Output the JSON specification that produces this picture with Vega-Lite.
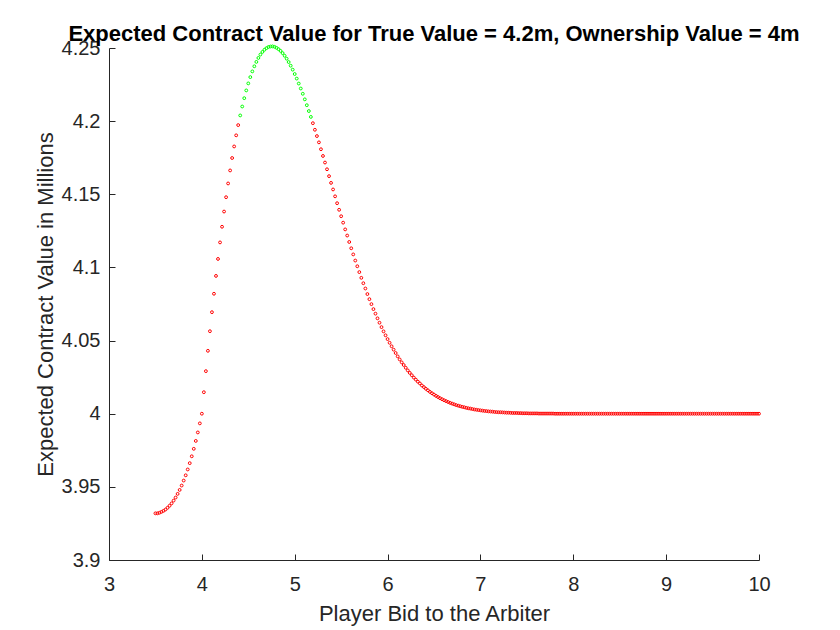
{
  "$schema": "https://vega.github.io/schema/vega-lite/v6.json",
  "autosize": {"type": "none"},
  "padding": {"left": 109, "top": 48, "right": 81, "bottom": 70},
  "width": 650,
  "height": 512,
  "background": "white",
  "title": {
    "text": "Expected Contract Value for True Value = 4.2m, Ownership Value = 4m",
    "font": "Liberation Sans",
    "fontSize": 22,
    "fontWeight": "bold",
    "color": "#000000",
    "anchor": "middle",
    "baseline": "alphabetic",
    "offset": 9,
    "dy": 34
  },
  "config": {
    "view": {"stroke": null},
    "axis": {
      "grid": false,
      "domainColor": "#262626",
      "tickColor": "#262626",
      "labelColor": "#262626",
      "titleColor": "#262626",
      "labelFont": "Liberation Sans",
      "titleFont": "Liberation Sans",
      "labelFontSize": 20,
      "titleFontSize": 22,
      "titleFontWeight": "normal",
      "tickSize": -6,
      "labelOverlap": false,
      "labelFlush": false
    }
  },
  "data": {
    "values": [
      {"bid": 3.5, "value": 3.9319}, {"bid": 3.5217, "value": 3.9319}, {"bid": 3.5435, "value": 3.9323}, {"bid": 3.5652, "value": 3.9329},
      {"bid": 3.587, "value": 3.9336}, {"bid": 3.6087, "value": 3.9345}, {"bid": 3.6304, "value": 3.9357}, {"bid": 3.6522, "value": 3.9371},
      {"bid": 3.6739, "value": 3.9387}, {"bid": 3.6957, "value": 3.9406}, {"bid": 3.7174, "value": 3.9427}, {"bid": 3.7391, "value": 3.9452},
      {"bid": 3.7609, "value": 3.9479}, {"bid": 3.7826, "value": 3.9509}, {"bid": 3.8043, "value": 3.9543}, {"bid": 3.8261, "value": 3.9579},
      {"bid": 3.8478, "value": 3.9619}, {"bid": 3.8696, "value": 3.9662}, {"bid": 3.8913, "value": 3.9709}, {"bid": 3.913, "value": 3.976},
      {"bid": 3.9348, "value": 3.9814}, {"bid": 3.9565, "value": 3.9872}, {"bid": 3.9783, "value": 3.9934},
      {"bid": 4.0, "value": 4.0}, {"bid": 4.0217, "value": 4.0147}, {"bid": 4.0435, "value": 4.0291}, {"bid": 4.0652, "value": 4.043},
      {"bid": 4.087, "value": 4.0564}, {"bid": 4.1087, "value": 4.0694}, {"bid": 4.1304, "value": 4.082}, {"bid": 4.1522, "value": 4.0942},
      {"bid": 4.1739, "value": 4.1058}, {"bid": 4.1957, "value": 4.1171}, {"bid": 4.2174, "value": 4.1278}, {"bid": 4.2391, "value": 4.1382},
      {"bid": 4.2609, "value": 4.148}, {"bid": 4.2826, "value": 4.1574}, {"bid": 4.3043, "value": 4.1663}, {"bid": 4.3261, "value": 4.1748},
      {"bid": 4.3478, "value": 4.1827}, {"bid": 4.3696, "value": 4.1903}, {"bid": 4.3913, "value": 4.1973}, {"bid": 4.413, "value": 4.2039},
      {"bid": 4.4348, "value": 4.21}, {"bid": 4.4565, "value": 4.2157}, {"bid": 4.4783, "value": 4.221},
      {"bid": 4.5, "value": 4.2258}, {"bid": 4.5217, "value": 4.2301}, {"bid": 4.5435, "value": 4.234}, {"bid": 4.5652, "value": 4.2375},
      {"bid": 4.587, "value": 4.2405}, {"bid": 4.6087, "value": 4.2432}, {"bid": 4.6304, "value": 4.2455}, {"bid": 4.6522, "value": 4.2473},
      {"bid": 4.6739, "value": 4.2488}, {"bid": 4.6957, "value": 4.2499}, {"bid": 4.7174, "value": 4.2507}, {"bid": 4.7391, "value": 4.251},
      {"bid": 4.7609, "value": 4.2511}, {"bid": 4.7826, "value": 4.2508}, {"bid": 4.8043, "value": 4.2501}, {"bid": 4.8261, "value": 4.2492},
      {"bid": 4.8478, "value": 4.248}, {"bid": 4.8696, "value": 4.2465}, {"bid": 4.8913, "value": 4.2447}, {"bid": 4.913, "value": 4.2427},
      {"bid": 4.9348, "value": 4.2404}, {"bid": 4.9565, "value": 4.2379}, {"bid": 4.9783, "value": 4.2352},
      {"bid": 5.0, "value": 4.2322}, {"bid": 5.0217, "value": 4.2291}, {"bid": 5.0435, "value": 4.2257}, {"bid": 5.0652, "value": 4.2223},
      {"bid": 5.087, "value": 4.2187}, {"bid": 5.1087, "value": 4.2149}, {"bid": 5.1304, "value": 4.2109}, {"bid": 5.1522, "value": 4.2069},
      {"bid": 5.1739, "value": 4.2029}, {"bid": 5.1957, "value": 4.1986}, {"bid": 5.2174, "value": 4.1941}, {"bid": 5.2391, "value": 4.1898},
      {"bid": 5.2609, "value": 4.1855}, {"bid": 5.2826, "value": 4.1808}, {"bid": 5.3043, "value": 4.1762}, {"bid": 5.3261, "value": 4.1717},
      {"bid": 5.3478, "value": 4.1671}, {"bid": 5.3696, "value": 4.1624}, {"bid": 5.3913, "value": 4.1578}, {"bid": 5.413, "value": 4.1533},
      {"bid": 5.4348, "value": 4.1486}, {"bid": 5.4565, "value": 4.1439}, {"bid": 5.4783, "value": 4.1394},
      {"bid": 5.5, "value": 4.135}, {"bid": 5.5217, "value": 4.1306}, {"bid": 5.5435, "value": 4.126}, {"bid": 5.5652, "value": 4.1218},
      {"bid": 5.587, "value": 4.1174}, {"bid": 5.6087, "value": 4.1131}, {"bid": 5.6304, "value": 4.1089}, {"bid": 5.6522, "value": 4.1047},
      {"bid": 5.6739, "value": 4.1008}, {"bid": 5.6957, "value": 4.0968}, {"bid": 5.7174, "value": 4.0929}, {"bid": 5.7391, "value": 4.0892},
      {"bid": 5.7609, "value": 4.0856}, {"bid": 5.7826, "value": 4.0818}, {"bid": 5.8043, "value": 4.0783}, {"bid": 5.8261, "value": 4.0749},
      {"bid": 5.8478, "value": 4.0715}, {"bid": 5.8696, "value": 4.0684}, {"bid": 5.8913, "value": 4.0652}, {"bid": 5.913, "value": 4.0622},
      {"bid": 5.9348, "value": 4.0592}, {"bid": 5.9565, "value": 4.0563}, {"bid": 5.9783, "value": 4.0536},
      {"bid": 6.0, "value": 4.051}, {"bid": 6.0217, "value": 4.0485}, {"bid": 6.0435, "value": 4.0461}, {"bid": 6.0652, "value": 4.0438},
      {"bid": 6.087, "value": 4.0415}, {"bid": 6.1087, "value": 4.0392}, {"bid": 6.1304, "value": 4.0371}, {"bid": 6.1522, "value": 4.0351},
      {"bid": 6.1739, "value": 4.0333}, {"bid": 6.1957, "value": 4.0314}, {"bid": 6.2174, "value": 4.0296}, {"bid": 6.2391, "value": 4.0279},
      {"bid": 6.2609, "value": 4.0263}, {"bid": 6.2826, "value": 4.0247}, {"bid": 6.3043, "value": 4.0233}, {"bid": 6.3261, "value": 4.0219},
      {"bid": 6.3478, "value": 4.0207}, {"bid": 6.3696, "value": 4.0193}, {"bid": 6.3913, "value": 4.0182}, {"bid": 6.413, "value": 4.017},
      {"bid": 6.4348, "value": 4.016}, {"bid": 6.4565, "value": 4.0149}, {"bid": 6.4783, "value": 4.014},
      {"bid": 6.5, "value": 4.0131}, {"bid": 6.5217, "value": 4.0122}, {"bid": 6.5435, "value": 4.0114}, {"bid": 6.5652, "value": 4.0106},
      {"bid": 6.587, "value": 4.0099}, {"bid": 6.6087, "value": 4.0092}, {"bid": 6.6304, "value": 4.0086}, {"bid": 6.6522, "value": 4.008},
      {"bid": 6.6739, "value": 4.0074}, {"bid": 6.6957, "value": 4.0069}, {"bid": 6.7174, "value": 4.0064}, {"bid": 6.7391, "value": 4.0059},
      {"bid": 6.7609, "value": 4.0055}, {"bid": 6.7826, "value": 4.0051}, {"bid": 6.8043, "value": 4.0047}, {"bid": 6.8261, "value": 4.0044},
      {"bid": 6.8478, "value": 4.004}, {"bid": 6.8696, "value": 4.0037}, {"bid": 6.8913, "value": 4.0035}, {"bid": 6.913, "value": 4.0032},
      {"bid": 6.9348, "value": 4.0029}, {"bid": 6.9565, "value": 4.0027}, {"bid": 6.9783, "value": 4.0025},
      {"bid": 7.0, "value": 4.0023}, {"bid": 7.0217, "value": 4.0021}, {"bid": 7.0435, "value": 4.0019}, {"bid": 7.0652, "value": 4.0018},
      {"bid": 7.087, "value": 4.0016}, {"bid": 7.1087, "value": 4.0015}, {"bid": 7.1304, "value": 4.0014}, {"bid": 7.1522, "value": 4.0012},
      {"bid": 7.1739, "value": 4.0011}, {"bid": 7.1957, "value": 4.001}, {"bid": 7.2174, "value": 4.001}, {"bid": 7.2391, "value": 4.0009},
      {"bid": 7.2609, "value": 4.0008}, {"bid": 7.2826, "value": 4.0007}, {"bid": 7.3043, "value": 4.0007}, {"bid": 7.3261, "value": 4.0006},
      {"bid": 7.3478, "value": 4.0005}, {"bid": 7.3696, "value": 4.0005}, {"bid": 7.3913, "value": 4.0005}, {"bid": 7.413, "value": 4.0004},
      {"bid": 7.4348, "value": 4.0004}, {"bid": 7.4565, "value": 4.0003}, {"bid": 7.4783, "value": 4.0003},
      {"bid": 7.5, "value": 4.0003}, {"bid": 7.5217, "value": 4.0002}, {"bid": 7.5435, "value": 4.0002}, {"bid": 7.5652, "value": 4.0002},
      {"bid": 7.587, "value": 4.0002}, {"bid": 7.6087, "value": 4.0002}, {"bid": 7.6304, "value": 4.0001}, {"bid": 7.6522, "value": 4.0001},
      {"bid": 7.6739, "value": 4.0001}, {"bid": 7.6957, "value": 4.0001}, {"bid": 7.7174, "value": 4.0001}, {"bid": 7.7391, "value": 4.0001},
      {"bid": 7.7609, "value": 4.0001}, {"bid": 7.7826, "value": 4.0001}, {"bid": 7.8043, "value": 4.0}, {"bid": 7.8261, "value": 4.0},
      {"bid": 7.8478, "value": 4.0}, {"bid": 7.8696, "value": 4.0}, {"bid": 7.8913, "value": 4.0}, {"bid": 7.913, "value": 4.0},
      {"bid": 7.9348, "value": 4.0}, {"bid": 7.9565, "value": 4.0}, {"bid": 7.9783, "value": 4.0},
      {"bid": 8.0, "value": 4.0}, {"bid": 8.0217, "value": 4.0}, {"bid": 8.0435, "value": 4.0}, {"bid": 8.0652, "value": 4.0},
      {"bid": 8.087, "value": 4.0}, {"bid": 8.1087, "value": 4.0}, {"bid": 8.1304, "value": 4.0}, {"bid": 8.1522, "value": 4.0},
      {"bid": 8.1739, "value": 4.0}, {"bid": 8.1957, "value": 4.0}, {"bid": 8.2174, "value": 4.0}, {"bid": 8.2391, "value": 4.0},
      {"bid": 8.2609, "value": 4.0}, {"bid": 8.2826, "value": 4.0}, {"bid": 8.3043, "value": 4.0}, {"bid": 8.3261, "value": 4.0},
      {"bid": 8.3478, "value": 4.0}, {"bid": 8.3696, "value": 4.0}, {"bid": 8.3913, "value": 4.0}, {"bid": 8.413, "value": 4.0},
      {"bid": 8.4348, "value": 4.0}, {"bid": 8.4565, "value": 4.0}, {"bid": 8.4783, "value": 4.0},
      {"bid": 8.5, "value": 4.0}, {"bid": 8.5217, "value": 4.0}, {"bid": 8.5435, "value": 4.0}, {"bid": 8.5652, "value": 4.0},
      {"bid": 8.587, "value": 4.0}, {"bid": 8.6087, "value": 4.0}, {"bid": 8.6304, "value": 4.0}, {"bid": 8.6522, "value": 4.0},
      {"bid": 8.6739, "value": 4.0}, {"bid": 8.6957, "value": 4.0}, {"bid": 8.7174, "value": 4.0}, {"bid": 8.7391, "value": 4.0},
      {"bid": 8.7609, "value": 4.0}, {"bid": 8.7826, "value": 4.0}, {"bid": 8.8043, "value": 4.0}, {"bid": 8.8261, "value": 4.0},
      {"bid": 8.8478, "value": 4.0}, {"bid": 8.8696, "value": 4.0}, {"bid": 8.8913, "value": 4.0}, {"bid": 8.913, "value": 4.0},
      {"bid": 8.9348, "value": 4.0}, {"bid": 8.9565, "value": 4.0}, {"bid": 8.9783, "value": 4.0},
      {"bid": 9.0, "value": 4.0}, {"bid": 9.0217, "value": 4.0}, {"bid": 9.0435, "value": 4.0}, {"bid": 9.0652, "value": 4.0},
      {"bid": 9.087, "value": 4.0}, {"bid": 9.1087, "value": 4.0}, {"bid": 9.1304, "value": 4.0}, {"bid": 9.1522, "value": 4.0},
      {"bid": 9.1739, "value": 4.0}, {"bid": 9.1957, "value": 4.0}, {"bid": 9.2174, "value": 4.0}, {"bid": 9.2391, "value": 4.0},
      {"bid": 9.2609, "value": 4.0}, {"bid": 9.2826, "value": 4.0}, {"bid": 9.3043, "value": 4.0}, {"bid": 9.3261, "value": 4.0},
      {"bid": 9.3478, "value": 4.0}, {"bid": 9.3696, "value": 4.0}, {"bid": 9.3913, "value": 4.0}, {"bid": 9.413, "value": 4.0},
      {"bid": 9.4348, "value": 4.0}, {"bid": 9.4565, "value": 4.0}, {"bid": 9.4783, "value": 4.0},
      {"bid": 9.5, "value": 4.0}, {"bid": 9.5217, "value": 4.0}, {"bid": 9.5435, "value": 4.0}, {"bid": 9.5652, "value": 4.0},
      {"bid": 9.587, "value": 4.0}, {"bid": 9.6087, "value": 4.0}, {"bid": 9.6304, "value": 4.0}, {"bid": 9.6522, "value": 4.0},
      {"bid": 9.6739, "value": 4.0}, {"bid": 9.6957, "value": 4.0}, {"bid": 9.7174, "value": 4.0}, {"bid": 9.7391, "value": 4.0},
      {"bid": 9.7609, "value": 4.0}, {"bid": 9.7826, "value": 4.0}, {"bid": 9.8043, "value": 4.0}, {"bid": 9.8261, "value": 4.0},
      {"bid": 9.8478, "value": 4.0}, {"bid": 9.8696, "value": 4.0}, {"bid": 9.8913, "value": 4.0}, {"bid": 9.913, "value": 4.0},
      {"bid": 9.9348, "value": 4.0}, {"bid": 9.9565, "value": 4.0}, {"bid": 9.9783, "value": 4.0}, {"bid": 10.0, "value": 4.0}
    ]
  },
  "mark": {"type": "point", "shape": "circle", "filled": false, "size": 8, "strokeWidth": 1, "opacity": 1},
  "encoding": {
    "x": {
      "field": "bid",
      "type": "quantitative",
      "title": "Player Bid to the Arbiter",
      "scale": {"domain": [3, 10], "nice": false, "zero": false},
      "axis": {
        "values": [3, 4, 5, 6, 7, 8, 9, 10],
        "format": "d",
        "labelPadding": 20,
        "titleX": 325,
        "titleY": 60,
        "titleBaseline": "alphabetic"
      }
    },
    "y": {
      "field": "value",
      "type": "quantitative",
      "title": "Expected Contract Value in Millions",
      "scale": {"domain": [3.9, 4.25], "nice": false, "zero": false},
      "axis": {
        "values": [3.9, 3.95, 4, 4.05, 4.1, 4.15, 4.2, 4.25],
        "format": ".2~f",
        "labelPadding": 15,
        "titleX": -57,
        "titleY": 256,
        "titleBaseline": "alphabetic"
      }
    },
    "color": {
      "condition": {"test": "datum.value > 4.2", "value": "#00ff00"},
      "value": "#ff0000"
    }
  }
}
